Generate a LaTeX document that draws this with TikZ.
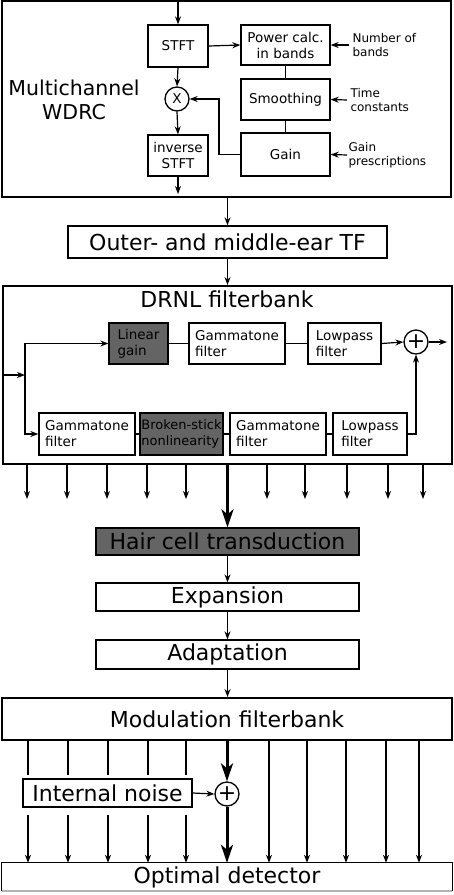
\documentclass[tikz,border=0pt]{standalone}
\usepackage{fontspec}
\setmainfont{DejaVu Sans}
\usetikzlibrary{arrows.meta,calc}
\definecolor{darkfill}{RGB}{100,100,100}
\begin{document}
\begin{tikzpicture}[x=1pt,y=-1pt,
  box/.style={draw, line width=1.3pt, fill=white, inner sep=0pt, align=center},
  bigbox/.style={draw, line width=2pt, inner sep=0pt, align=center},
  dark/.style={fill=darkfill},
  med/.style={font=\fontsize{13.5}{16}\selectfont},
  sml/.style={font=\fontsize{12}{14.5}\selectfont},
  lrg/.style={font=\fontsize{22}{25}\selectfont},
  sumnode/.style={draw, circle, line width=1.3pt, minimum size=24pt, inner sep=0pt},
  arr/.style={-{Stealth[length=8pt,width=6pt]}, line width=1.2pt},
  thickarr/.style={-{Stealth[length=18pt,width=12pt,inset=5pt]}, line width=3pt},
  ln/.style={line width=1.3pt}
]
\useasboundingbox (0,0) rectangle (453,895);
% ---------------- WDRC ----------------
\node[bigbox, minimum width=449pt, minimum height=196pt] (wdrc) at (226.5,99) {};
\node[font=\fontsize{20.5}{24.5}\selectfont, align=center] (wdrclabel) at (74,100) {Multichannel\\WDRC};
\node[box, med, minimum width=60pt, minimum height=42pt] (stft) at (178,46) {STFT};
\node[box, med, minimum width=89pt, minimum height=40pt] (power) at (285.5,45) {Power calc.\\in bands};
\node[box, med, minimum width=89pt, minimum height=41pt] (smooth) at (285.5,99.5) {Smoothing};
\node[box, med, minimum width=89pt, minimum height=43pt] (gain) at (285.5,154.5) {Gain};
\node[sumnode, med] (mult) at (177,99) {X};
\node[box, med, minimum width=60pt, minimum height=41pt] (istft) at (178,155.5) {inverse\\STFT};
\node[sml, align=left, anchor=west] (nb) at (349,45) {Number of\\bands};
\node[sml, align=left, anchor=west] (tc) at (347,100) {Time\\constants};
\node[sml, align=left, anchor=west] (gp) at (345,155) {Gain\\prescriptions};
\coordinate (in0) at (178,1);
\coordinate (out0) at (178,194);
\draw[arr] (in0) -- (stft.north);
\draw[arr] (stft.east) -- (power.west);
\draw[arr] (stft.south) -- (mult.north);
\draw[arr] (mult.south) -- (istft.north);
\draw[arr] (istft.south) -- (out0);
\draw[ln] (power.south) -- (smooth.north);
\draw[ln] (smooth.south) -- (gain.north);
\draw[arr] (gain.west) -- (219,154.5) |- (mult.east);
\draw[arr] (nb.west) -- (power.east);
\draw[arr] (tc.west) -- (smooth.east);
\draw[arr] (gp.west) ++(2,0) -- (gain.east);
% ---------------- Outer/middle ear ----------------
\node[box, lrg, minimum width=319pt, minimum height=32pt] (outer) at (227.5,242) {Outer- and middle-ear TF};
\draw[arr] (wdrc.south -| outer.north) -- (outer.north);
% ---------------- DRNL ----------------
\node[bigbox, minimum width=449pt, minimum height=178pt] (drnl) at (227.5,375) {};
\draw[arr] (outer.south) -- (drnl.north);
\node[lrg] (drnltitle) at (227,299) {DRNL filterbank};
\node[box, dark, med, align=left, minimum width=59pt, minimum height=41pt] (lin) at (138.5,343.5) {Linear\\gain};
\node[box, med, align=left, minimum width=96pt, minimum height=41pt] (gt1) at (237,343.5) {Gammatone\\filter};
\node[box, med, align=left, minimum width=73pt, minimum height=41pt] (lp1) at (344.5,343.5) {Lowpass\\filter};
\node[sumnode, font=\fontsize{22}{22}\selectfont] (plus1) at (416,342) {+};
\node[box, med, align=left, minimum width=96pt, minimum height=42pt] (gt2) at (87,434) {Gammatone\\filter};
\node[box, dark, font=\fontsize{13}{15.5}\selectfont, align=left, minimum width=83pt, minimum height=42pt] (bs) at (181.5,434) {Broken-stick\\nonlinearity};
\node[box, med, align=left, minimum width=96pt, minimum height=42pt] (gt3) at (278,434) {Gammatone\\filter};
\node[box, med, align=left, minimum width=74pt, minimum height=42pt] (lp2) at (370,434) {Lowpass\\filter};
\coordinate (din) at (4,375);
\coordinate (split) at (25,375);
\coordinate (dout) at (447,342);
\draw[arr] (din) -- (split);
\draw[arr] (split) |- (lin.west);
\draw[arr] (split) |- (gt2.west);
\draw[ln] (lin.east) -- (gt1.west);
\draw[ln] (gt1.east) -- (lp1.west);
\draw[arr] (lp1.east) -- (plus1.west);
\draw[arr] (plus1.east) -- (dout);
\draw[ln] (gt2.east) -- (bs.west);
\draw[ln] (bs.east) -- (gt3.west);
\draw[ln] (gt3.east) -- (lp2.west);
\draw[arr] (lp2.east) -| (plus1.south);
\foreach \xx in {27,67,107,147,186,267,305,347,388,423}
  \draw[arr] (\xx,0 |- drnl.south) -- ++(0,34);
% ---------------- Hair cell etc ----------------
\node[box, dark, lrg, minimum width=263pt, minimum height=27pt] (hair) at (227.5,541.5) {Hair cell transduction};
\node[box, lrg, minimum width=263pt, minimum height=28pt] (exp) at (227.5,597) {Expansion};
\node[box, lrg, minimum width=263pt, minimum height=29pt] (adapt) at (227.5,654.5) {Adaptation};
\draw[thickarr] (drnl.south -| hair.north) -- (hair.north);
\draw[arr] (hair.south) -- (exp.north);
\draw[arr] (exp.south) -- (adapt.north);
% ---------------- Modulation ----------------
\node[bigbox, lrg, minimum width=450pt, minimum height=42pt] (mod) at (227,719) {Modulation filterbank};
\draw[arr] (adapt.south) -- (adapt.south |- mod.north);
\node[box, lrg, minimum width=169pt, minimum height=28pt] (noise) at (107.5,793) {Internal noise};
\node[sumnode, font=\fontsize{22}{22}\selectfont] (plus2) at (227,794) {+};
\node[draw=none, lrg, minimum width=450pt, minimum height=28pt] (opt) at (227,877) {Optimal detector};
\draw[line width=1.3pt] (opt.south west) -- (opt.north west) -- (opt.north east) -- (opt.south east);
\draw[line width=1.6pt, gray!60] (opt.south west) -- (opt.south east);
\draw[thickarr] (mod.south -| plus2.north) -- (plus2.north);
\draw[thickarr] (plus2.south) -- (plus2.south |- opt.north);
\draw[arr] (noise.east) -- (plus2.west);
\foreach \xx in {28,68,108,148,186} {
  \draw[line width=1.2pt] (\xx,0 |- mod.south) -- (\xx,775);
  \draw[arr] (\xx,815) -- (\xx,0 |- opt.north);
}
\foreach \xx in {269,307,346,386,419}
  \draw[arr] (\xx,0 |- mod.south) -- (\xx,0 |- opt.north);
\end{tikzpicture}
\end{document}
